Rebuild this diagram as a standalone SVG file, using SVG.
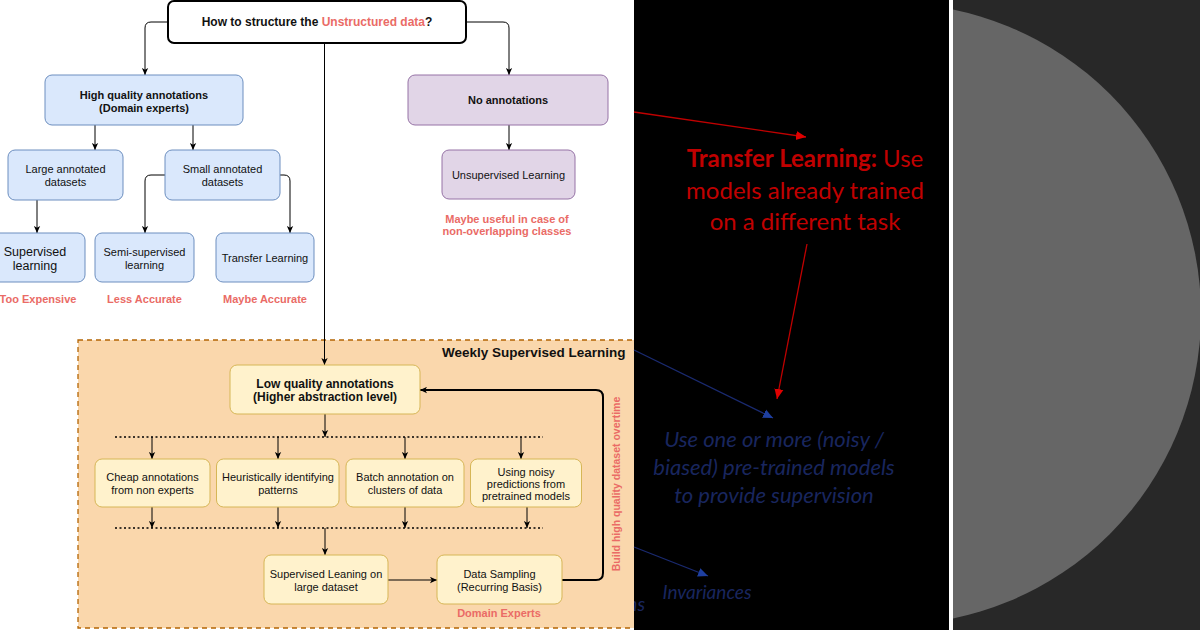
<svg xmlns="http://www.w3.org/2000/svg" width="1200" height="630" viewBox="0 0 1200 630">
<defs>
<style>
.t{font-family:"Liberation Sans",Arial,sans-serif;font-size:11px;fill:#111;text-anchor:middle}
.b{font-weight:bold}
.red{fill:#ea6b66;font-weight:bold}
.blue{fill:#dae8fc;stroke:#6c8ebf;stroke-width:1}
.purple{fill:#e1d5e7;stroke:#9673a6;stroke-width:1}
.yellow{fill:#fff2cc;stroke:#d6b656;stroke-width:1}
.c{fill:none;stroke:#000;stroke-width:1;marker-end:url(#arr)}
.dot{fill:none;stroke:#000;stroke-width:1.5;stroke-dasharray:2 2.5}
.rl{stroke:#c00000;stroke-width:1.3;marker-end:url(#arrR)}
.bl{stroke:#1a2a70;stroke-width:1.3;marker-end:url(#arrB)}
.sl{font-family:Lato,"Open Sans",sans-serif;text-anchor:middle}
.rt{font-size:24px;fill:#c00000}
.bt{font-size:22px;font-style:italic;fill:#19265e}
</style>
<marker id="arr" viewBox="0 0 10 10" refX="10" refY="5" markerWidth="7" markerHeight="7" markerUnits="userSpaceOnUse" orient="auto"><path d="M0,0.5 L10,5 L0,9.5 L2.5,5 z" fill="#000"/></marker>
<marker id="arrR" viewBox="0 0 10 10" refX="10" refY="5" markerWidth="10" markerHeight="10" markerUnits="userSpaceOnUse" orient="auto"><path d="M0,0.5 L10,5 L0,9.5 z" fill="#e00000"/></marker>
<marker id="arrB" viewBox="0 0 10 10" refX="10" refY="5" markerWidth="10" markerHeight="10" markerUnits="userSpaceOnUse" orient="auto"><path d="M0,0.5 L10,5 L0,9.5 z" fill="#1e3fa0"/></marker>
<clipPath id="blackClip"><rect x="634" y="0" width="315" height="630"/></clipPath>
<clipPath id="greyClip"><rect x="953" y="0" width="247" height="630"/></clipPath>
</defs>

<rect x="0" y="0" width="1200" height="630" fill="#fff"/>

<g id="weekly-supervised">
<rect x="78" y="340" width="600" height="288" fill="#fad7ac" stroke="#b46504" stroke-width="1.3" stroke-dasharray="5 4"/>
<text class="t b" x="442" y="357" style="text-anchor:start;font-size:13.5px">Weekly Supervised Learning</text>
</g>

<g id="connectors">
<path class="c" d="M168,22 H151 Q145,22 145,28 V75"/>
<path class="c" d="M466,22 H503 Q509,22 509,28 V75"/>
<path class="c" d="M324.5,43 V365"/>
<path class="c" d="M95,125 V150"/>
<path class="c" d="M193,125 V150"/>
<path class="c" d="M37,200 V233"/>
<path class="c" d="M165,175 H151 Q145,175 145,181 V233"/>
<path class="c" d="M280,175 H284 Q290,175 290,181 V233"/>
<path class="c" d="M509,125 V150"/>
<path class="c" d="M325,414 V437"/>
<path class="dot" d="M115,437 H543"/>
<path class="c" d="M152,437 V459"/>
<path class="c" d="M278,437 V459"/>
<path class="c" d="M405,437 V459"/>
<path class="c" d="M521,437 V459"/>
<path class="c" d="M152,507 V528"/>
<path class="c" d="M278,507 V528"/>
<path class="c" d="M405,507 V528"/>
<path class="c" d="M527,507 V528"/>
<path class="dot" d="M115,528 H543"/>
<path class="c" d="M325,528 V555"/>
<path class="c" d="M388,580 H437"/>
<path class="c" d="M562,580 H596 Q603,580 603,573 V397 Q603,390 596,390 H420" style="stroke-width:2"/>
</g>

<g id="top">
<rect x="168" y="1" width="298" height="42" rx="6" fill="#fff" stroke="#000" stroke-width="2"/>
<text class="t b" x="317" y="26" style="font-size:12px">How to structure the <tspan fill="#ea6b66">Unstructured data</tspan>?</text>
</g>

<g id="high-quality">
<rect class="blue" x="45" y="75" width="198" height="50" rx="7"/>
<text class="t b" x="144" y="99">High quality annotations</text>
<text class="t b" x="144" y="112">(Domain experts)</text>
</g>
<g id="large">
<rect class="blue" x="8" y="150" width="115" height="50" rx="7"/>
<text class="t" x="65.5" y="173">Large annotated</text>
<text class="t" x="65.5" y="185.5">datasets</text>
</g>
<g id="small">
<rect class="blue" x="165" y="150" width="115" height="50" rx="7"/>
<text class="t" x="222.5" y="173">Small annotated</text>
<text class="t" x="222.5" y="185.5">datasets</text>
</g>
<g id="supervised">
<rect class="blue" x="-15" y="233" width="100" height="49" rx="7"/>
<text class="t" x="35" y="255.5" style="font-size:12.5px">Supervised</text>
<text class="t" x="35" y="270" style="font-size:12.5px">learning</text>
<text class="t red" x="38" y="303">Too Expensive</text>
</g>
<g id="semi">
<rect class="blue" x="95" y="233" width="99" height="49" rx="7"/>
<text class="t" x="144.5" y="256">Semi-supervised</text>
<text class="t" x="144.5" y="269">learning</text>
<text class="t red" x="144.5" y="303">Less Accurate</text>
</g>
<g id="transfer">
<rect class="blue" x="216" y="233" width="98" height="49" rx="7"/>
<text class="t" x="265" y="261.5">Transfer Learning</text>
<text class="t red" x="265" y="303">Maybe Accurate</text>
</g>
<g id="no-annotations">
<rect class="purple" x="408" y="75" width="200" height="50" rx="7"/>
<text class="t b" x="508" y="104">No annotations</text>
</g>
<g id="unsupervised">
<rect class="purple" x="442" y="150" width="133" height="49" rx="7"/>
<text class="t" x="508.5" y="179">Unsupervised Learning</text>
<text class="t red" x="507" y="223">Maybe useful in case of</text>
<text class="t red" x="507" y="235">non-overlapping classes</text>
</g>

<g id="low-quality">
<rect class="yellow" x="230" y="365" width="190" height="49" rx="7"/>
<text class="t b" x="325" y="387.5" style="font-size:12px">Low quality annotations</text>
<text class="t b" x="325" y="400.5" style="font-size:12px">(Higher abstraction level)</text>
</g>
<g id="cheap">
<rect class="yellow" x="95" y="459" width="115" height="48" rx="7"/>
<text class="t" x="152.5" y="481">Cheap annotations</text>
<text class="t" x="152.5" y="494">from non experts</text>
</g>
<g id="heuristic">
<rect class="yellow" x="216.5" y="459" width="122.5" height="48" rx="7"/>
<text class="t" x="278" y="481">Heuristically identifying</text>
<text class="t" x="278" y="494">patterns</text>
</g>
<g id="batch">
<rect class="yellow" x="346" y="459" width="118" height="48" rx="7"/>
<text class="t" x="405" y="481">Batch annotation on</text>
<text class="t" x="405" y="494">clusters of data</text>
</g>
<g id="noisy">
<rect class="yellow" x="470.5" y="459" width="111" height="48" rx="7"/>
<text class="t" x="526" y="475.5">Using noisy</text>
<text class="t" x="526" y="488">predictions from</text>
<text class="t" x="526" y="500">pretrained models</text>
</g>
<g id="supervised-leaning">
<rect class="yellow" x="264" y="555" width="124" height="49" rx="7"/>
<text class="t" x="326" y="578">Supervised Leaning on</text>
<text class="t" x="326" y="590.5">large dataset</text>
</g>
<g id="data-sampling">
<rect class="yellow" x="437" y="555" width="125" height="49" rx="7"/>
<text class="t" x="499.5" y="578">Data Sampling</text>
<text class="t" x="499.5" y="590.5">(Recurring Basis)</text>
<text class="t red" x="499" y="617">Domain Experts</text>
</g>
<text class="t red" transform="translate(620,484) rotate(-90)" style="font-size:10.5px">Build high quality dataset overtime</text>

<rect x="634" y="0" width="315" height="630" fill="#000"/>
<rect x="949" y="0" width="4" height="630" fill="#fff"/>
<rect x="953" y="0" width="247" height="630" fill="#282828"/>
<circle cx="890" cy="314" r="311" fill="#666" clip-path="url(#greyClip)"/>

<g id="slide-annotations">
<line class="rl" x1="634" y1="112" x2="806" y2="137"/>
<line class="rl" x1="807" y1="244" x2="777" y2="399"/>
<line class="bl" x1="634" y1="350" x2="773" y2="418"/>
<line class="bl" x1="634" y1="547" x2="708" y2="576"/>
<text class="sl rt" x="805" y="167"><tspan font-weight="bold">Transfer Learning:</tspan> Use</text>
<text class="sl rt" x="805" y="199">models already trained</text>
<text class="sl rt" x="805" y="230">on a different task</text>
<text class="sl bt" x="774" y="447">Use one or more (noisy /</text>
<text class="sl bt" x="774" y="475">biased) pre-trained models</text>
<text class="sl bt" x="774" y="503">to provide supervision</text>
<text class="sl" x="707" y="599" style="font-size:19px;font-style:italic;fill:#19265e">Invariances</text>
<g clip-path="url(#blackClip)"><text class="sl" x="645" y="611" style="font-size:19px;font-style:italic;fill:#19265e;text-anchor:end">ns</text></g>
</g>
</svg>
